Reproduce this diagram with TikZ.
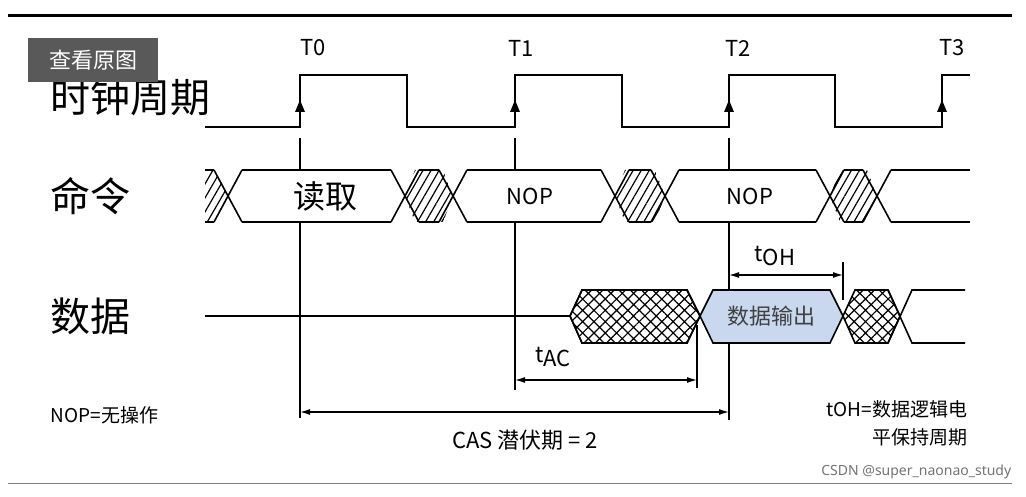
\documentclass[tikz,border=0pt]{standalone}
\usepackage{fontspec}
\setmainfont{Noto Sans}
\newfontfamily\cjk{Noto Sans CJK SC}
\usetikzlibrary{patterns.meta,arrows.meta}
\definecolor{outblue}{HTML}{C9D8EE}
\begin{document}
\begin{tikzpicture}[x=1pt,y=-1pt,line width=1.6pt,
  lbl/.style={font=\cjk\fontsize{22}{26}\selectfont,inner sep=0},
  big/.style={font=\cjk\fontsize{40}{44}\selectfont,inner sep=0},
  dim/.style={{Latex[length=10pt,width=6pt]}-{Latex[length=10pt,width=6pt]},line width=1.3pt},
  thin/.style={line width=1.3pt},
  hatchl/.style={pattern={Lines[angle=60,distance=7pt,line width=1.2pt]}},
  hatchx/.style={pattern={Hatch[angle=45,distance=8pt,line width=1.2pt]}}]
\useasboundingbox (0,0) rectangle (1026,497);
\draw[line width=3pt] (8,16) -- (1012,16);
\draw[line width=1pt,gray] (8,483) -- (1012,483);
% clock
\draw (205,127) -- (300,127) -- (300,75) -- (407,75) -- (407,127) -- (515,127) -- (515,75) -- (622,75) -- (622,127) -- (729,127) -- (729,75) -- (835,75) -- (835,127) -- (942,127) -- (942,75) -- (970,75);
\foreach \x in {300,515,729,942} \fill (\x,100) -- (\x-5,112) -- (\x+5,112) -- cycle;
\node[lbl] (t0) at (313,48) {T0};
\node[lbl] (t1) at (521,48) {T1};
\node[lbl] (t2) at (738,48) {T2};
\node[lbl] (t3) at (952,48) {T3};
\node[big,anchor=west] (clk) at (50,97) {时钟周期};
\node[fill=black!65,text=white,font=\cjk\fontsize{22}{24}\selectfont,minimum width=130pt,minimum height=44pt,inner sep=0] (view) at (93,60) {查看原图};
% verticals
\draw[thin] (300,138) -- (300,418);
\draw[thin] (515,138) -- (515,390);
\draw[thin] (729,138) -- (729,420);
% command bus
\node[big,anchor=west] (cmd) at (50,196) {命令};
\def\yt{170}\def\yb{222}\def\ym{196}
\fill[white] (228,\ym) -- (242,\yt) -- (391,\yt) -- (405,\ym) -- (391,\yb) -- (242,\yb) -- cycle;
\fill[white] (453,\ym) -- (467,\yt) -- (601,\yt) -- (615,\ym) -- (601,\yb) -- (467,\yb) -- cycle;
\fill[white] (665,\ym) -- (679,\yt) -- (816,\yt) -- (830,\ym) -- (816,\yb) -- (679,\yb) -- cycle;
\fill[hatchl] (205,\yt) -- (214,\yt) -- (228,\ym) -- (214,\yb) -- (205,\yb) -- cycle;
\draw (214,\yt) -- (242,\yb); \draw (214,\yb) -- (242,\yt);
\draw (205,\yt)--(214,\yt); \draw (205,\yb)--(214,\yb);
\foreach \a/\b in {405/453,615/665,830/877}{
  \fill[white] (\a,\ym) -- (\a+10,\yt) -- (\b-10,\yt) -- (\b,\ym) -- (\b-10,\yb) -- (\a+10,\yb) -- cycle;
  \fill[hatchl] (\a,\ym) -- (\a+10,\yt) -- (\b-10,\yt) -- (\b,\ym) -- (\b-10,\yb) -- (\a+10,\yb) -- cycle;
  \draw (\a-14,\yt) -- (\a+14,\yb); \draw (\a-14,\yb) -- (\a+14,\yt);
  \draw (\b-14,\yt) -- (\b+14,\yb); \draw (\b-14,\yb) -- (\b+14,\yt);
  \draw (\a+14,\yt) -- (\b-14,\yt); \draw (\a+14,\yb) -- (\b-14,\yb);}
\draw (242,\yt) -- (391,\yt); \draw (242,\yb) -- (391,\yb);
\draw (467,\yt) -- (601,\yt); \draw (467,\yb) -- (601,\yb);
\draw (679,\yt) -- (816,\yt); \draw (679,\yb) -- (816,\yb);
\draw (891,\yt) -- (970,\yt); \draw (891,\yb) -- (970,\yb);
\node[big,font=\cjk\fontsize{32}{36}\selectfont] (rd) at (325,196) {读取};
\node[lbl] (nop1) at (530,196) {NOP};
\node[lbl] (nop2) at (750,196) {NOP};
% data bus
\node[big,anchor=west] (dat) at (50,316) {数据};
\def\dt{290}\def\db{343}\def\dm{316}
\draw (205,\dm) -- (570,\dm);
\draw[fill=white] (570,\dm) -- (582,\dt) -- (687,\dt) -- (700,\dm) -- (687,\db) -- (582,\db) -- cycle;
\draw[hatchx] (570,\dm) -- (582,\dt) -- (687,\dt) -- (700,\dm) -- (687,\db) -- (582,\db) -- cycle;
\draw[fill=outblue] (700,\dm) -- (713,\dt) -- (830,\dt) -- (843,\dm) -- (830,\db) -- (713,\db) -- cycle;
\node[font=\cjk\fontsize{22}{24}\selectfont,text=black!75,inner sep=0] (out) at (771,316) {数据输出};
\draw[hatchx] (843,\dm) -- (855,\dt) -- (888,\dt) -- (900,\dm) -- (888,\db) -- (855,\db) -- cycle;
\draw (888,\dt) -- (912,\db) -- (965,\db); \draw (888,\db) -- (912,\dt) -- (965,\dt);
% dimensions
\draw[thin] (843,262) -- (843,300);
\coordinate (oh1) at (729,275); \coordinate (oh2) at (843,275);
\draw[dim] (oh1) -- (oh2);
\node[lbl] (toh) at (775,256) {t\raisebox{-4pt}{OH}};
\draw[thin] (697,325) -- (697,388);
\coordinate (ac1) at (515,380); \coordinate (ac2) at (697,380);
\draw[dim] (ac1) -- (ac2);
\node[lbl] (tac) at (553,357) {t\raisebox{-4pt}{AC}};
\coordinate (cas1) at (300,412); \coordinate (cas2) at (729,412);
\draw[dim] (cas1) -- (cas2);
\node[lbl] (cas) at (525,440) {CAS 潜伏期 = 2};
\node[font=\cjk\fontsize{19}{22}\selectfont,anchor=west,inner sep=0] (nopdef) at (50,415) {NOP=无操作};
\node[font=\cjk\fontsize{19}{28}\selectfont,align=right,anchor=north east,inner sep=0] (ohdef) at (968,400) {tOH=数据逻辑电\\平保持周期};
\node[font=\fontsize{14}{16}\selectfont,text=black!55,anchor=east,inner sep=0] (csdn) at (1012,472) {CSDN @super\_naonao\_study};
\end{tikzpicture}
\end{document}
